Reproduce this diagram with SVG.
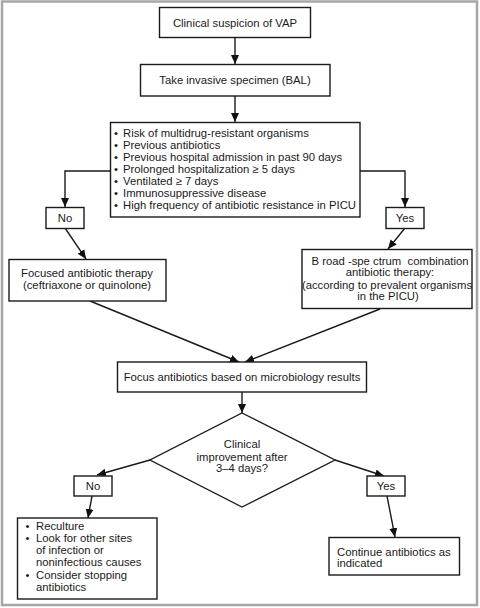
<svg xmlns="http://www.w3.org/2000/svg" width="480" height="608" viewBox="0 0 480 608">
<defs>
<marker id="ah" markerUnits="userSpaceOnUse" markerWidth="10" markerHeight="10" viewBox="0 0 10 10" refX="9" refY="5" orient="auto">
<path d="M0,1 L9,5 L0,9 Z" fill="#111"/>
</marker>
<style>
.box{fill:#fff;stroke:#1a1a1a;stroke-width:1.4}
.t{font-family:"Liberation Sans",Arial,sans-serif;font-size:11.3px;fill:#1a1a1a}
.c{text-anchor:middle}
.ln{fill:none;stroke:#1a1a1a;stroke-width:1.4;marker-end:url(#ah)}
</style>
</defs>
<rect x="0" y="0" width="480" height="608" fill="#fff"/>
<rect x="2" y="1.5" width="475" height="603.5" fill="none" stroke="#a6a6a6" stroke-width="2.5"/>

<g id="connectors">
<path class="ln" d="M235,37 V64"/>
<path class="ln" d="M235,96 V122"/>
<path class="ln" d="M110,171 H65 V207"/>
<path class="ln" d="M360,171 H405 V207"/>
<path class="ln" d="M65,228 L86,259"/>
<path class="ln" d="M405,228 L388,249"/>
<path class="ln" d="M90,301 L239,362"/>
<path class="ln" d="M380,309 L245,362"/>
<path class="ln" d="M242,392 V413"/>
<path class="ln" d="M150,460 L97,475"/>
<path class="ln" d="M335,460 L384,476"/>
<path class="ln" d="M92,496 L88,518"/>
<path class="ln" d="M387,496 L395,537"/>
</g>

<g id="n1">
<rect class="box" x="159.5" y="7.5" width="151" height="30"/>
<text class="t c" x="235" y="26.5">Clinical suspicion of VAP</text>
</g>
<g id="n2">
<rect class="box" x="140.5" y="64.5" width="189.5" height="31.5"/>
<text class="t c" x="235" y="83.5">Take invasive specimen (BAL)</text>
</g>
<g id="n3">
<rect class="box" x="110.5" y="122.5" width="249.5" height="94.5"/>
<text class="t" x="114" y="137">•</text><text class="t" x="123" y="137">Risk of multidrug-resistant organisms</text>
<text class="t" x="114" y="149">•</text><text class="t" x="123" y="149">Previous antibiotics</text>
<text class="t" x="114" y="161">•</text><text class="t" x="123" y="161">Previous hospital admission in past 90 days</text>
<text class="t" x="114" y="173">•</text><text class="t" x="123" y="173">Prolonged hospitalization ≥ 5 days</text>
<text class="t" x="114" y="185">•</text><text class="t" x="123" y="185">Ventilated ≥ 7 days</text>
<text class="t" x="114" y="197">•</text><text class="t" x="123" y="197">Immunosuppressive disease</text>
<text class="t" x="114" y="209">•</text><text class="t" x="123" y="209">High frequency of antibiotic resistance in PICU</text>
</g>
<g id="n4">
<rect class="box" x="46" y="207.5" width="38" height="21"/>
<text class="t c" x="65" y="222">No</text>
</g>
<g id="n5">
<rect class="box" x="386" y="207.5" width="38" height="21"/>
<text class="t c" x="405" y="222">Yes</text>
</g>
<g id="n6">
<rect class="box" x="9" y="259.5" width="157" height="41.5"/>
<text class="t c" x="87" y="276.5">Focused antibiotic therapy</text>
<text class="t c" x="87" y="288.5">(ceftriaxone or quinolone)</text>
</g>
<g id="n7">
<rect class="box" x="302" y="249.5" width="170" height="59"/>
<text class="t c" x="390" y="264.5" xml:space="preserve">B road -spe ctrum  combination</text>
<text class="t c" x="390" y="276">antibiotic therapy:</text>
<text class="t c" x="387" y="288.5">(according to prevalent organisms</text>
<text class="t c" x="388" y="300">in the PICU)</text>
</g>
<g id="n8">
<rect class="box" x="117.5" y="362" width="249" height="30"/>
<text class="t c" x="242" y="381">Focus antibiotics based on microbiology results</text>
</g>
<g id="n9">
<polygon class="box" points="242,413 335,460 242,507 150,460"/>
<text class="t c" x="242" y="448">Clinical</text>
<text class="t c" x="242" y="460.5">improvement after</text>
<text class="t c" x="242" y="472">3–4 days?</text>
</g>
<g id="n10">
<rect class="box" x="74" y="476" width="38" height="20"/>
<text class="t c" x="93" y="490">No</text>
</g>
<g id="n11">
<rect class="box" x="367" y="476" width="38" height="20"/>
<text class="t c" x="386" y="490">Yes</text>
</g>
<g id="n12">
<rect class="box" x="17.5" y="518" width="139.5" height="81"/>
<text class="t" x="25.5" y="530">•</text><text class="t" x="36" y="530">Reculture</text>
<text class="t" x="25.5" y="542">•</text><text class="t" x="36" y="542">Look for other sites</text>
<text class="t" x="36" y="554">of infection or</text>
<text class="t" x="36" y="566">noninfectious causes</text>
<text class="t" x="25.5" y="578.5">•</text><text class="t" x="36" y="578.5">Consider stopping</text>
<text class="t" x="36" y="590.5">antibiotics</text>
</g>
<g id="n13">
<rect class="box" x="329" y="537.5" width="130.5" height="37.5"/>
<text class="t" x="337" y="555.5">Continue antibiotics as</text>
<text class="t" x="337" y="567">indicated</text>
</g>
</svg>
